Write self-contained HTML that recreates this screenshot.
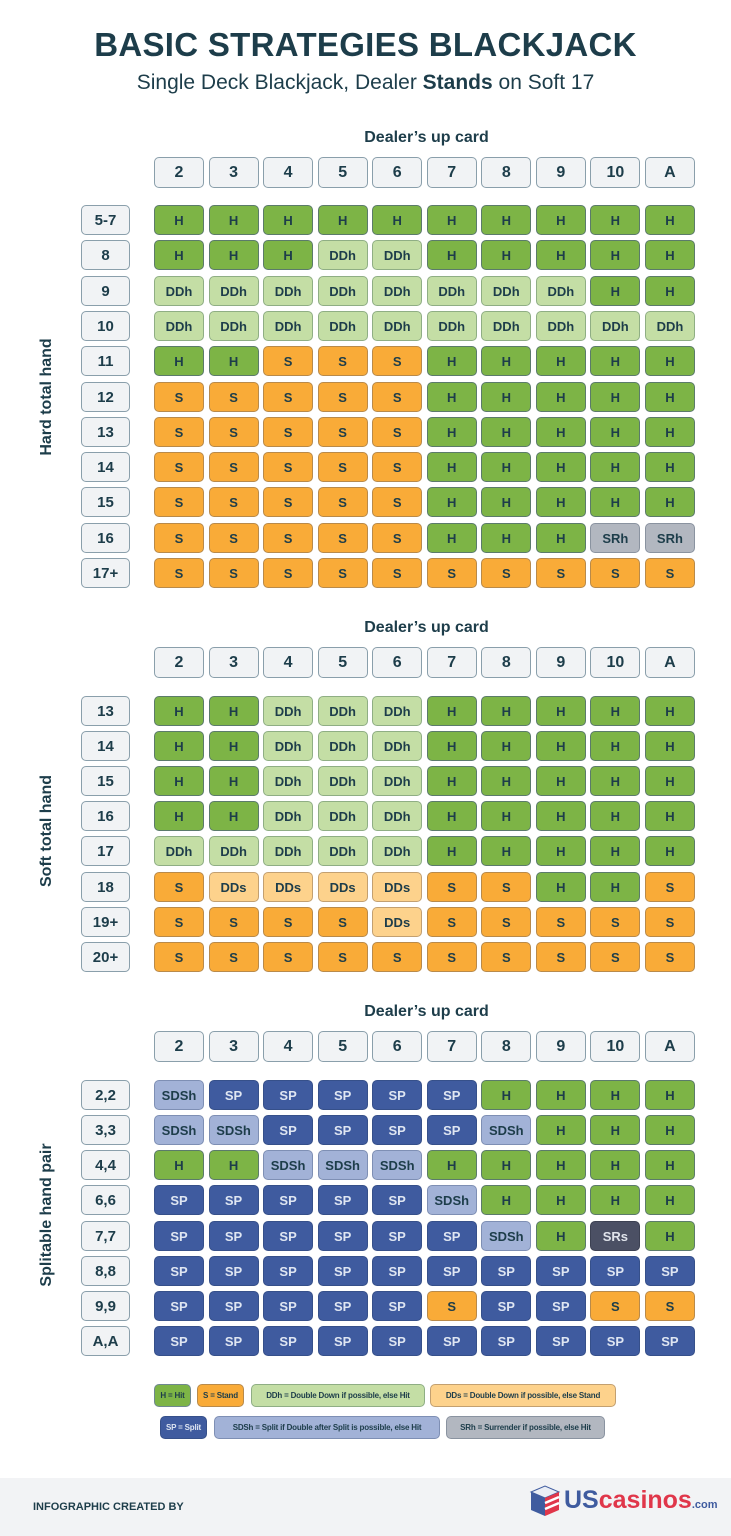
<!DOCTYPE html>
<html><head><meta charset="utf-8">
<style>
*{margin:0;padding:0;box-sizing:border-box}
body{width:731px;height:1536px;background:#fff;font-family:"Liberation Sans",sans-serif;position:relative;overflow:hidden;color:#1d3d4a}
.t1{position:absolute;top:26px;left:0;width:731px;text-align:center;font-size:33px;font-weight:bold;letter-spacing:0.3px}
.t2{position:absolute;top:71px;left:0;width:731px;text-align:center;font-size:21px}
.dl{position:absolute;left:0;width:853px;text-align:center;font-size:16px;font-weight:bold}
.r{position:absolute;left:81px;display:flex;height:30px}
.r b,.r i{display:flex;align-items:center;justify-content:center;height:30px;border-radius:5px;font-style:normal;font-weight:bold}
.r b{width:49px;margin-right:24px;background:#f1f3f5;border:1.5px solid #8a9fab;font-size:15px}
.r i{width:50px;margin-right:4.55px;font-size:13px;border:1.5px solid #5b7b6a}
.hd i{background:#f1f3f5;border-color:#8a9fab;font-size:16px;height:31px}
.h{background:#7db446}
.dh{background:#c4dea5;border-color:#8fae84!important}
.s{background:#f9ab38;border-color:#b98a4a!important}
.ds{background:#fdd28c;border-color:#c3a070!important}
.p{background:#3f5b9f;color:#dfe6f2;border-color:#36508a!important}
.sd{background:#a2b2d7;border-color:#7e8fb4!important}
.sr{background:#b2b7c0;border-color:#8a93a0!important}
.rs{background:#4b5064;color:#dfe3ea;border-color:#3c4152!important}
.vl{position:absolute;left:47px;transform:translate(-50%,-50%) rotate(-90deg);font-size:16px;font-weight:bold;white-space:nowrap}
.lg span{position:absolute;display:flex;align-items:center;justify-content:center;height:23px;border-radius:5px;font-size:8px;font-weight:bold;border:1px solid #6f8890;white-space:nowrap;letter-spacing:-0.2px}
.foot{position:absolute;top:1478px;left:0;width:731px;height:58px;background:#f2f3f5}
</style></head><body>
<div class="t1">BASIC STRATEGIES BLACKJACK</div>
<div class="t2">Single Deck Blackjack, Dealer <b>Stands</b> on Soft 17</div>

<div class="dl" style="top:129px">Dealer’s up card</div>
<div class="r hd" style="top:157px;left:154px"><i>2</i><i>3</i><i>4</i><i>5</i><i>6</i><i>7</i><i>8</i><i>9</i><i>10</i><i>A</i></div>
<div class="vl" style="top:397px">Hard total hand</div>
<div class="r" style="top:205px"><b>5-7</b><i class=h>H</i><i class=h>H</i><i class=h>H</i><i class=h>H</i><i class=h>H</i><i class=h>H</i><i class=h>H</i><i class=h>H</i><i class=h>H</i><i class=h>H</i></div>
<div class="r" style="top:240px"><b>8</b><i class=h>H</i><i class=h>H</i><i class=h>H</i><i class=dh>DDh</i><i class=dh>DDh</i><i class=h>H</i><i class=h>H</i><i class=h>H</i><i class=h>H</i><i class=h>H</i></div>
<div class="r" style="top:276px"><b>9</b><i class=dh>DDh</i><i class=dh>DDh</i><i class=dh>DDh</i><i class=dh>DDh</i><i class=dh>DDh</i><i class=dh>DDh</i><i class=dh>DDh</i><i class=dh>DDh</i><i class=h>H</i><i class=h>H</i></div>
<div class="r" style="top:311px"><b>10</b><i class=dh>DDh</i><i class=dh>DDh</i><i class=dh>DDh</i><i class=dh>DDh</i><i class=dh>DDh</i><i class=dh>DDh</i><i class=dh>DDh</i><i class=dh>DDh</i><i class=dh>DDh</i><i class=dh>DDh</i></div>
<div class="r" style="top:346px"><b>11</b><i class=h>H</i><i class=h>H</i><i class=s>S</i><i class=s>S</i><i class=s>S</i><i class=h>H</i><i class=h>H</i><i class=h>H</i><i class=h>H</i><i class=h>H</i></div>
<div class="r" style="top:382px"><b>12</b><i class=s>S</i><i class=s>S</i><i class=s>S</i><i class=s>S</i><i class=s>S</i><i class=h>H</i><i class=h>H</i><i class=h>H</i><i class=h>H</i><i class=h>H</i></div>
<div class="r" style="top:417px"><b>13</b><i class=s>S</i><i class=s>S</i><i class=s>S</i><i class=s>S</i><i class=s>S</i><i class=h>H</i><i class=h>H</i><i class=h>H</i><i class=h>H</i><i class=h>H</i></div>
<div class="r" style="top:452px"><b>14</b><i class=s>S</i><i class=s>S</i><i class=s>S</i><i class=s>S</i><i class=s>S</i><i class=h>H</i><i class=h>H</i><i class=h>H</i><i class=h>H</i><i class=h>H</i></div>
<div class="r" style="top:487px"><b>15</b><i class=s>S</i><i class=s>S</i><i class=s>S</i><i class=s>S</i><i class=s>S</i><i class=h>H</i><i class=h>H</i><i class=h>H</i><i class=h>H</i><i class=h>H</i></div>
<div class="r" style="top:523px"><b>16</b><i class=s>S</i><i class=s>S</i><i class=s>S</i><i class=s>S</i><i class=s>S</i><i class=h>H</i><i class=h>H</i><i class=h>H</i><i class=sr>SRh</i><i class=sr>SRh</i></div>
<div class="r" style="top:558px"><b>17+</b><i class=s>S</i><i class=s>S</i><i class=s>S</i><i class=s>S</i><i class=s>S</i><i class=s>S</i><i class=s>S</i><i class=s>S</i><i class=s>S</i><i class=s>S</i></div>

<div class="dl" style="top:619px">Dealer’s up card</div>
<div class="r hd" style="top:647px;left:154px"><i>2</i><i>3</i><i>4</i><i>5</i><i>6</i><i>7</i><i>8</i><i>9</i><i>10</i><i>A</i></div>
<div class="vl" style="top:831px">Soft total hand</div>
<div class="r" style="top:696px"><b>13</b><i class=h>H</i><i class=h>H</i><i class=dh>DDh</i><i class=dh>DDh</i><i class=dh>DDh</i><i class=h>H</i><i class=h>H</i><i class=h>H</i><i class=h>H</i><i class=h>H</i></div>
<div class="r" style="top:731px"><b>14</b><i class=h>H</i><i class=h>H</i><i class=dh>DDh</i><i class=dh>DDh</i><i class=dh>DDh</i><i class=h>H</i><i class=h>H</i><i class=h>H</i><i class=h>H</i><i class=h>H</i></div>
<div class="r" style="top:766px"><b>15</b><i class=h>H</i><i class=h>H</i><i class=dh>DDh</i><i class=dh>DDh</i><i class=dh>DDh</i><i class=h>H</i><i class=h>H</i><i class=h>H</i><i class=h>H</i><i class=h>H</i></div>
<div class="r" style="top:801px"><b>16</b><i class=h>H</i><i class=h>H</i><i class=dh>DDh</i><i class=dh>DDh</i><i class=dh>DDh</i><i class=h>H</i><i class=h>H</i><i class=h>H</i><i class=h>H</i><i class=h>H</i></div>
<div class="r" style="top:836px"><b>17</b><i class=dh>DDh</i><i class=dh>DDh</i><i class=dh>DDh</i><i class=dh>DDh</i><i class=dh>DDh</i><i class=h>H</i><i class=h>H</i><i class=h>H</i><i class=h>H</i><i class=h>H</i></div>
<div class="r" style="top:872px"><b>18</b><i class=s>S</i><i class=ds>DDs</i><i class=ds>DDs</i><i class=ds>DDs</i><i class=ds>DDs</i><i class=s>S</i><i class=s>S</i><i class=h>H</i><i class=h>H</i><i class=s>S</i></div>
<div class="r" style="top:907px"><b>19+</b><i class=s>S</i><i class=s>S</i><i class=s>S</i><i class=s>S</i><i class=ds>DDs</i><i class=s>S</i><i class=s>S</i><i class=s>S</i><i class=s>S</i><i class=s>S</i></div>
<div class="r" style="top:942px"><b>20+</b><i class=s>S</i><i class=s>S</i><i class=s>S</i><i class=s>S</i><i class=s>S</i><i class=s>S</i><i class=s>S</i><i class=s>S</i><i class=s>S</i><i class=s>S</i></div>

<div class="dl" style="top:1003px">Dealer’s up card</div>
<div class="r hd" style="top:1031px;left:154px"><i>2</i><i>3</i><i>4</i><i>5</i><i>6</i><i>7</i><i>8</i><i>9</i><i>10</i><i>A</i></div>
<div class="vl" style="top:1215px">Splitable hand pair</div>
<div class="r" style="top:1080px"><b>2,2</b><i class=sd>SDSh</i><i class=p>SP</i><i class=p>SP</i><i class=p>SP</i><i class=p>SP</i><i class=p>SP</i><i class=h>H</i><i class=h>H</i><i class=h>H</i><i class=h>H</i></div>
<div class="r" style="top:1115px"><b>3,3</b><i class=sd>SDSh</i><i class=sd>SDSh</i><i class=p>SP</i><i class=p>SP</i><i class=p>SP</i><i class=p>SP</i><i class=sd>SDSh</i><i class=h>H</i><i class=h>H</i><i class=h>H</i></div>
<div class="r" style="top:1150px"><b>4,4</b><i class=h>H</i><i class=h>H</i><i class=sd>SDSh</i><i class=sd>SDSh</i><i class=sd>SDSh</i><i class=h>H</i><i class=h>H</i><i class=h>H</i><i class=h>H</i><i class=h>H</i></div>
<div class="r" style="top:1185px"><b>6,6</b><i class=p>SP</i><i class=p>SP</i><i class=p>SP</i><i class=p>SP</i><i class=p>SP</i><i class=sd>SDSh</i><i class=h>H</i><i class=h>H</i><i class=h>H</i><i class=h>H</i></div>
<div class="r" style="top:1221px"><b>7,7</b><i class=p>SP</i><i class=p>SP</i><i class=p>SP</i><i class=p>SP</i><i class=p>SP</i><i class=p>SP</i><i class=sd>SDSh</i><i class=h>H</i><i class=rs>SRs</i><i class=h>H</i></div>
<div class="r" style="top:1256px"><b>8,8</b><i class=p>SP</i><i class=p>SP</i><i class=p>SP</i><i class=p>SP</i><i class=p>SP</i><i class=p>SP</i><i class=p>SP</i><i class=p>SP</i><i class=p>SP</i><i class=p>SP</i></div>
<div class="r" style="top:1291px"><b>9,9</b><i class=p>SP</i><i class=p>SP</i><i class=p>SP</i><i class=p>SP</i><i class=p>SP</i><i class=s>S</i><i class=p>SP</i><i class=p>SP</i><i class=s>S</i><i class=s>S</i></div>
<div class="r" style="top:1326px"><b>A,A</b><i class=p>SP</i><i class=p>SP</i><i class=p>SP</i><i class=p>SP</i><i class=p>SP</i><i class=p>SP</i><i class=p>SP</i><i class=p>SP</i><i class=p>SP</i><i class=p>SP</i></div>

<div class="lg">
<span class="h" style="top:1384px;left:154px;width:37px">H = Hit</span>
<span class="s" style="top:1384px;left:197px;width:47px">S = Stand</span>
<span class="dh" style="top:1384px;left:251px;width:174px">DDh = Double Down if possible, else Hit</span>
<span class="ds" style="top:1384px;left:430px;width:186px">DDs = Double Down if possible, else Stand</span>
<span class="p" style="top:1416px;left:160px;width:47px">SP = Split</span>
<span class="sd" style="top:1416px;left:214px;width:226px">SDSh = Split if Double after Split is possible, else Hit</span>
<span class="sr" style="top:1416px;left:446px;width:159px">SRh = Surrender if possible, else Hit</span>
</div>

<div class="foot">
<div style="position:absolute;left:33px;top:23px;font-size:11px;font-weight:bold">INFOGRAPHIC CREATED BY</div>
<svg style="position:absolute;left:529px;top:6px" width="32" height="34" viewBox="0 0 32 34"><polygon points="2,8 16,2 30,8 16,14" fill="#e9edf5" stroke="#3f5b9f"/><polygon points="2,8 16,14 16,32 2,26" fill="#3f5b9f"/><polygon points="16,14 30,8 30,26 16,32" fill="#e0364a"/><path d="M16,19 L30,13 M16,25 L30,19" stroke="#fff" stroke-width="2.5"/></svg>
<div style="position:absolute;left:564px;top:8px;font-size:25px;font-weight:bold;color:#3f5b9f">US<span style="color:#e0364a">casinos</span><span style="font-size:11px;color:#3f5b9f">.com</span></div>
</div>
</body></html>
